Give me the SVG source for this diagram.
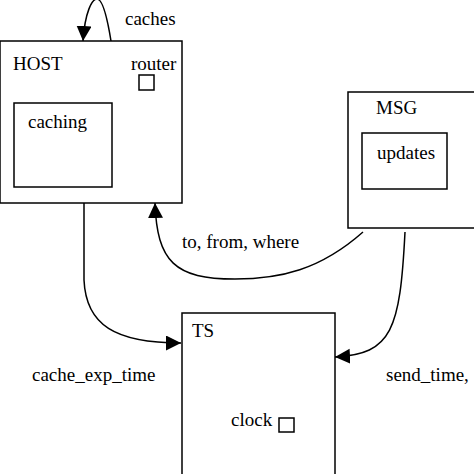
<svg xmlns="http://www.w3.org/2000/svg" width="474" height="474" viewBox="0 0 474 474">
<defs>
<style>
.box{fill:none;stroke:#000;stroke-width:1.5}
.edge{fill:none;stroke:#000;stroke-width:1.5}
</style>
<marker id="arr" markerUnits="userSpaceOnUse" markerWidth="16" markerHeight="16" viewBox="0 0 16 16" refX="15" refY="7.5" orient="auto">
<path d="M0,0 L15,7.5 L0,15 Z" fill="#000"/>
</marker>
</defs>
<rect width="474" height="474" fill="#fff"/>
<g id="connectors">
<path class="edge" d="M111,41 C106,10 101,-1 97,-1 C92,-1 85,12 83,41" marker-end="url(#arr)"/>
<path class="edge" d="M84,203 L84,280 C86,325 115,343 181,343" marker-end="url(#arr)"/>
<path class="edge" d="M363,232 C320,270 280,279 235,279 C175,279 157,262 155,203" marker-end="url(#arr)"/>
<path class="edge" d="M405,232 C400,330 392,354 335,357" marker-end="url(#arr)"/>
</g>
<g font-family="Liberation Serif, Times New Roman, serif" font-size="19" fill="#000">
<g id="labels">
<text x="125" y="25">caches</text>
<text x="182" y="248">to, from, where</text>
<text x="32" y="381">cache_exp_time</text>
<text x="386" y="381">send_time,</text>
</g>
<g id="HOST">
<rect class="box" x="0" y="41" width="182" height="162"/>
<text x="13" y="70">HOST</text>
<text x="131" y="70">router</text>
<rect class="box" x="139" y="75" width="15" height="15"/>
<g id="caching">
<rect class="box" x="14" y="103" width="98" height="84"/>
<text x="28" y="128">caching</text>
</g>
</g>
<g id="MSG">
<rect class="box" x="348" y="92" width="130" height="136"/>
<text x="376" y="114">MSG</text>
<g id="updates">
<rect class="box" x="362" y="133" width="85" height="56"/>
<text x="377" y="159">updates</text>
</g>
</g>
<g id="TS">
<rect class="box" x="182" y="313" width="153" height="170"/>
<text x="192" y="337">TS</text>
<text x="231" y="426">clock</text>
<rect class="box" x="279" y="418" width="15" height="14"/>
</g>
</g>
</svg>
